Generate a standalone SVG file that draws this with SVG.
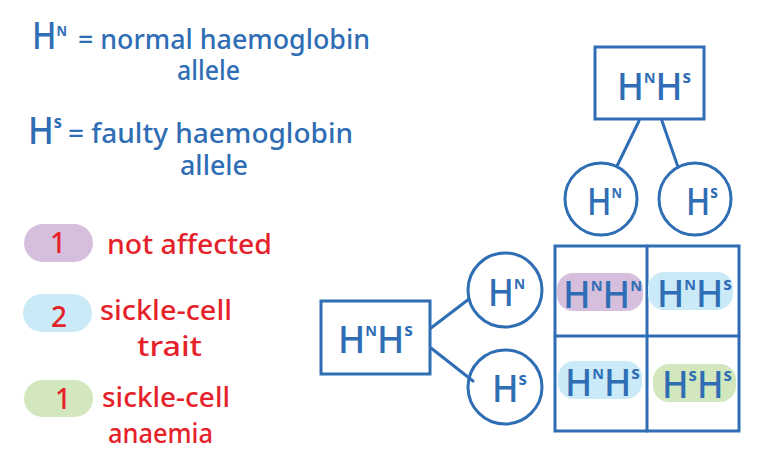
<svg xmlns="http://www.w3.org/2000/svg" width="758" height="461" viewBox="0 0 758 461">
<style>
  text { font-family: "Noto Sans", "Liberation Sans", sans-serif; }
  .blue { fill: #2f6db5; }
  .red { fill: #e5222a; }
  .box { fill: none; stroke: #2f6db5; stroke-width: 3; }
  .line { stroke: #2f6db5; stroke-width: 3; stroke-linecap: round; }
  .H { font-size: 38px; font-weight: 500; }
  .sup { font-size: 15px; font-weight: bold; }
  .sups { font-size: 18px; font-weight: bold; }
  .def { font-size: 27px; font-weight: 500; }
  .leg { font-size: 27px; font-weight: 500; }
  .num { font-size: 28px; text-anchor: middle; font-weight: 500; }
  .purple { fill: #d6bfdd; }
  .lblue { fill: #caeaf7; }
  .green { fill: #d2e7bd; }
</style>

<g id="key">
  <text class="blue" x="32" y="49" textLength="35" lengthAdjust="spacingAndGlyphs"><tspan class="H">H</tspan><tspan class="sup" dy="-13">N</tspan></text>
  <text class="blue def" x="78" y="49" textLength="292" lengthAdjust="spacingAndGlyphs">= normal haemoglobin</text>
  <text class="blue def" x="177" y="80" textLength="63" lengthAdjust="spacingAndGlyphs">allele</text>
  <text class="blue" x="28" y="144" textLength="34" lengthAdjust="spacingAndGlyphs"><tspan class="H">H</tspan><tspan class="sups" dy="-16">s</tspan></text>
  <text class="blue def" x="68" y="143" textLength="285" lengthAdjust="spacingAndGlyphs">= faulty haemoglobin</text>
  <text class="blue def" x="180" y="175" textLength="68" lengthAdjust="spacingAndGlyphs">allele</text>
</g>

<g id="legend">
  <rect class="purple" x="24" y="224" width="69" height="38" rx="19"/>
  <text class="red num" x="58" y="253">1</text>
  <text class="red leg" x="107" y="254" textLength="165" lengthAdjust="spacingAndGlyphs">not affected</text>
  <rect class="lblue" x="23" y="294" width="69" height="38" rx="19"/>
  <text class="red num" x="59" y="327">2</text>
  <text class="red leg" x="100" y="320" textLength="132" lengthAdjust="spacingAndGlyphs">sickle-cell</text>
  <text class="red leg" x="137" y="356" textLength="65" lengthAdjust="spacingAndGlyphs">trait</text>
  <rect class="green" x="24" y="380" width="69" height="37" rx="18.5"/>
  <text class="red num" x="63" y="409">1</text>
  <text class="red leg" x="102" y="407" textLength="128" lengthAdjust="spacingAndGlyphs">sickle-cell</text>
  <text class="red leg" x="108" y="443" textLength="105" lengthAdjust="spacingAndGlyphs">anaemia</text>
</g>

<g id="connectors">
  <line class="line" x1="639" y1="121" x2="617" y2="166"/>
  <line class="line" x1="662" y1="121" x2="678" y2="167"/>
  <line class="line" x1="431" y1="328" x2="469" y2="299"/>
  <line class="line" x1="431" y1="348" x2="473" y2="381"/>
</g>

<g id="parent-top">
  <rect class="box" x="595" y="47" width="109" height="72"/>
  <text class="blue" x="617" y="100" textLength="74" lengthAdjust="spacingAndGlyphs"><tspan class="H">H</tspan><tspan class="sup" dy="-17">N</tspan><tspan class="H" dy="17">H</tspan><tspan class="sups" dy="-17">s</tspan></text>
</g>

<g id="gamete-top-N">
  <circle class="box" cx="601" cy="199" r="36"/>
  <text class="blue" x="587" y="215" textLength="35" lengthAdjust="spacingAndGlyphs"><tspan class="H">H</tspan><tspan class="sup" dy="-17">N</tspan></text>
</g>

<g id="gamete-top-S">
  <circle class="box" cx="695" cy="199" r="36"/>
  <text class="blue" x="686" y="215" textLength="32" lengthAdjust="spacingAndGlyphs"><tspan class="H">H</tspan><tspan class="sups" dy="-17">s</tspan></text>
</g>

<g id="parent-left">
  <rect class="box" x="321" y="301" width="109" height="73"/>
  <text class="blue" x="338" y="353" textLength="75" lengthAdjust="spacingAndGlyphs"><tspan class="H">H</tspan><tspan class="sup" dy="-17">N</tspan><tspan class="H" dy="17">H</tspan><tspan class="sups" dy="-17">s</tspan></text>
</g>

<g id="gamete-left-N">
  <circle class="box" cx="505" cy="290" r="37"/>
  <text class="blue" x="488" y="306" textLength="37" lengthAdjust="spacingAndGlyphs"><tspan class="H">H</tspan><tspan class="sup" dy="-17">N</tspan></text>
</g>

<g id="gamete-left-S">
  <circle class="box" cx="505" cy="387" r="37"/>
  <text class="blue" x="492" y="402" textLength="35" lengthAdjust="spacingAndGlyphs"><tspan class="H">H</tspan><tspan class="sups" dy="-17">s</tspan></text>
</g>

<g id="punnett-grid">
  <rect class="box" x="555" y="246" width="184" height="185"/>
  <line class="line" x1="647" y1="246" x2="647" y2="431"/>
  <line class="line" x1="555" y1="336" x2="739" y2="336"/>
</g>

<g id="cell-NN">
  <rect class="purple" x="557" y="273" width="86" height="38" rx="16"/>
  <text class="blue" x="563" y="308" textLength="79" lengthAdjust="spacingAndGlyphs"><tspan class="H">H</tspan><tspan class="sup" dy="-17">N</tspan><tspan class="H" dy="17">H</tspan><tspan class="sup" dy="-17">N</tspan></text>
</g>

<g id="cell-NS-top">
  <rect class="lblue" x="648" y="272" width="85" height="38" rx="16"/>
  <text class="blue" x="657" y="307" textLength="75" lengthAdjust="spacingAndGlyphs"><tspan class="H">H</tspan><tspan class="sup" dy="-17">N</tspan><tspan class="H" dy="17">H</tspan><tspan class="sups" dy="-17">s</tspan></text>
</g>

<g id="cell-NS-bottom">
  <rect class="lblue" x="558" y="361" width="84" height="38" rx="16"/>
  <text class="blue" x="565" y="396" textLength="75" lengthAdjust="spacingAndGlyphs"><tspan class="H">H</tspan><tspan class="sup" dy="-17">N</tspan><tspan class="H" dy="17">H</tspan><tspan class="sups" dy="-17">s</tspan></text>
</g>

<g id="cell-SS">
  <rect class="green" x="653" y="364" width="83" height="38" rx="16"/>
  <text class="blue" x="662" y="398" textLength="70" lengthAdjust="spacingAndGlyphs"><tspan class="H">H</tspan><tspan class="sups" dy="-17">s</tspan><tspan class="H" dy="17">H</tspan><tspan class="sups" dy="-17">s</tspan></text>
</g>
</svg>
